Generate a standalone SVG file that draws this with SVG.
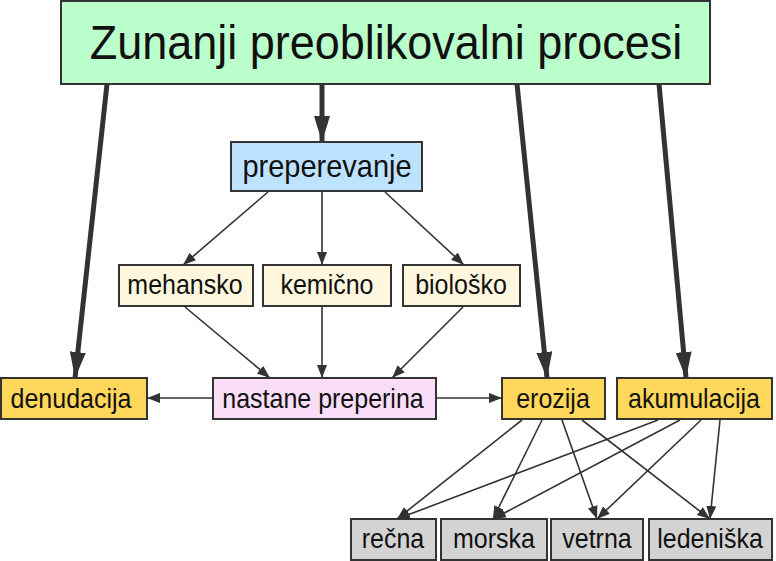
<svg xmlns="http://www.w3.org/2000/svg" width="776" height="561" viewBox="0 0 776 561">
<defs>
<style>
.box{stroke:#333;stroke-width:2}
.t{font-family:"Liberation Sans",Arial,sans-serif;font-size:25px;fill:#111;text-anchor:middle}
.thick{stroke:#333;stroke-width:5;fill:none}
.thin{stroke:#333;stroke-width:1.6;fill:none}
</style>
<marker id="big" markerUnits="userSpaceOnUse" markerWidth="30" markerHeight="20" refX="26" refY="8" orient="auto">
<path d="M0,0 L26,8 L0,16 Z" fill="#333"/>
</marker>
<marker id="sm" markerUnits="userSpaceOnUse" markerWidth="16" markerHeight="12" refX="13" refY="5" orient="auto">
<path d="M0,0 L13,5 L0,10 Z" fill="#333"/>
</marker>
</defs>
<rect width="776" height="561" fill="#fff"/>
<g id="connectors">
<line class="thick" x1="322" y1="84" x2="322" y2="142" marker-end="url(#big)"/>
<line class="thick" x1="107" y1="84" x2="75" y2="378" marker-end="url(#big)"/>
<line class="thick" x1="517" y1="84" x2="547" y2="378" marker-end="url(#big)"/>
<line class="thick" x1="659" y1="84" x2="686" y2="378" marker-end="url(#big)"/>
<line class="thin" x1="268" y1="192" x2="183" y2="265" marker-end="url(#sm)"/>
<line class="thin" x1="322" y1="192" x2="322" y2="265" marker-end="url(#sm)"/>
<line class="thin" x1="385" y1="192" x2="464" y2="265" marker-end="url(#sm)"/>
<line class="thin" x1="185" y1="307" x2="270" y2="378" marker-end="url(#sm)"/>
<line class="thin" x1="322" y1="307" x2="322" y2="378" marker-end="url(#sm)"/>
<line class="thin" x1="463" y1="307" x2="392" y2="378" marker-end="url(#sm)"/>
<line class="thin" x1="213" y1="398" x2="147" y2="398" marker-end="url(#sm)"/>
<line class="thin" x1="436" y1="398" x2="502" y2="398" marker-end="url(#sm)"/>
<line class="thin" x1="522" y1="420" x2="397" y2="519" marker-end="url(#sm)"/>
<line class="thin" x1="658" y1="420" x2="397" y2="519" marker-end="url(#sm)"/>
<line class="thin" x1="542" y1="420" x2="493" y2="519" marker-end="url(#sm)"/>
<line class="thin" x1="680" y1="420" x2="493" y2="519" marker-end="url(#sm)"/>
<line class="thin" x1="562" y1="420" x2="597" y2="519" marker-end="url(#sm)"/>
<line class="thin" x1="701" y1="420" x2="597" y2="519" marker-end="url(#sm)"/>
<line class="thin" x1="582" y1="420" x2="710" y2="519" marker-end="url(#sm)"/>
<line class="thin" x1="720" y1="420" x2="710" y2="519" marker-end="url(#sm)"/>
</g>
<g id="zunanji">
<rect class="box" x="61" y="1" width="649" height="83" fill="#bbffcc"/>
<text class="t" transform="translate(386,59) scale(1,1.06)" style="font-size:45px">Zunanji preoblikovalni procesi</text>
</g>
<g id="preperevanje">
<rect class="box" x="231" y="142" width="191" height="49" fill="#bde3ff"/>
<text class="t" transform="translate(327,177) scale(1,1.07)" style="font-size:29px">preperevanje</text>
</g>
<g id="mehansko">
<rect class="box" x="119" y="265" width="134" height="41" fill="#fff7dd"/>
<text class="t" transform="translate(185,294) scale(1,1.1)">mehansko</text>
</g>
<g id="kemicno">
<rect class="box" x="263" y="265" width="128" height="41" fill="#fff7dd"/>
<text class="t" transform="translate(327,294) scale(1,1.1)">kemično</text>
</g>
<g id="biolosko">
<rect class="box" x="403" y="265" width="117" height="41" fill="#fff7dd"/>
<text class="t" transform="translate(461,294) scale(1,1.1)">biološko</text>
</g>
<g id="denudacija">
<rect class="box" x="1" y="378" width="146" height="41" fill="#ffd75a"/>
<text class="t" transform="translate(71,408) scale(1,1.1)">denudacija</text>
</g>
<g id="nastane">
<rect class="box" x="213" y="378" width="223" height="41" fill="#f9ddf9"/>
<text class="t" transform="translate(323,408) scale(1,1.1)">nastane preperina</text>
</g>
<g id="erozija">
<rect class="box" x="502" y="378" width="103" height="41" fill="#ffd75a"/>
<text class="t" transform="translate(553,408) scale(1,1.1)">erozija</text>
</g>
<g id="akumulacija">
<rect class="box" x="617" y="378" width="155" height="41" fill="#ffd75a"/>
<text class="t" transform="translate(694,408) scale(1,1.1)">akumulacija</text>
</g>
<g id="recna">
<rect class="box" x="351" y="519" width="85" height="41" fill="#d3d3d3"/>
<text class="t" transform="translate(393,548) scale(1,1.1)">rečna</text>
</g>
<g id="morska">
<rect class="box" x="441" y="519" width="106" height="41" fill="#d3d3d3"/>
<text class="t" transform="translate(494,548) scale(1,1.1)">morska</text>
</g>
<g id="vetrna">
<rect class="box" x="551" y="519" width="92" height="41" fill="#d3d3d3"/>
<text class="t" transform="translate(597,548) scale(1,1.1)">vetrna</text>
</g>
<g id="ledeniska">
<rect class="box" x="649" y="519" width="123" height="41" fill="#d3d3d3"/>
<text class="t" transform="translate(710,548) scale(1,1.1)">ledeniška</text>
</g>
</svg>
